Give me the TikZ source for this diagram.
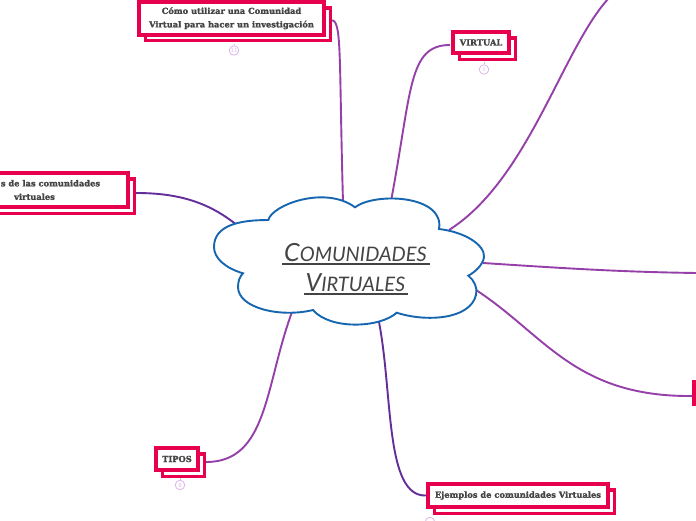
\documentclass[tikz,border=0pt]{standalone}
\usepackage{fontspec}
\setmainfont[BoldFont={DejaVu Serif Bold},BoldFeatures={FakeBold=1.6}]{DejaVu Serif}
\newfontfamily\titlefont{Lato Italic}
\usetikzlibrary{calc}
\definecolor{pinkb}{HTML}{E6004D}
\definecolor{cloudb}{HTML}{1565B0}
\definecolor{lightp}{HTML}{9440A8}
\definecolor{darkp}{HTML}{642E9A}
\definecolor{ink}{HTML}{444444}
\definecolor{tagc}{HTML}{DDB6EA}
\tikzset{
  x=1pt,y=-1pt,
  frontbox/.style={draw=pinkb,fill=white,line width=3.8pt,rectangle,inner sep=0pt,align=center,text=ink,font=\fontsize{8.3}{13.5}\selectfont\bfseries},
  backbox/.style={draw=pinkb,fill=white,line width=3.2pt,rectangle,inner sep=0pt},
  linkl/.style={draw=lightp,line width=1.9pt},
  linkd/.style={draw=darkp,line width=1.9pt},
  tagmark/.style={circle,draw=tagc,line width=.8pt,fill=white,minimum size=9.5pt,inner sep=0pt,text=tagc,font=\fontsize{5.5}{6}\selectfont},
  tagstem/.style={draw=tagc,line width=.8pt},
}
\newcommand{\ulrule}[1]{\vtop{\hbox{\hspace{2pt}#1\hspace{3pt}}\kern1.6pt\hrule height 1.5pt}}
% name, front l t r b, text
\newcommand{\pairbox}[6]{%
  \pgfmathsetmacro{\fl}{#2+1.9}\pgfmathsetmacro{\ft}{#3+1.9}%
  \pgfmathsetmacro{\fr}{#4-1.9}\pgfmathsetmacro{\fb}{#5-1.9}%
  \pgfmathsetmacro{\bl}{\fl+6.5}\pgfmathsetmacro{\bt}{\ft+6}%
  \pgfmathsetmacro{\br}{\fr+6.5}\pgfmathsetmacro{\bb}{\fb+6}%
  \pgfmathsetmacro{\wf}{\fr-\fl}\pgfmathsetmacro{\hf}{\fb-\ft}%
  \node[backbox,minimum width=\wf pt,minimum height=\hf pt] (#1b) at ({(\bl+\br)/2},{(\bt+\bb)/2}) {};
  \node[frontbox,minimum width=\wf pt,minimum height=\hf pt] (#1) at ({(\fl+\fr)/2},{(\ft+\fb)/2}) {#6};
}
\begin{document}
\begin{tikzpicture}
\clip (0,0) rectangle (696,520);
\fill[white] (0,0) rectangle (696,520);

\pairbox{como}{137}{0}{326}{36.5}{Cómo utilizar una Comunidad\\Virtual para hacer un investigación}
\pairbox{virtual}{451}{30}{511}{55}{VIRTUAL}
\pairbox{carac}{-61}{171}{130}{209}{\hspace*{32pt}s de las comunidades\\virtuales}
\pairbox{tipos}{154}{446}{200}{472}{TIPOS}
\pairbox{ejem}{426}{482}{610}{509}{Ejemplos de comunidades Virtuales}
\pairbox{edge}{692}{380}{760}{406}{}

\coordinate (offtop) at (608,-1);
\coordinate (offright) at (697,273);
\coordinate (cA) at (343,202);
\coordinate (cB) at (391,201);
\coordinate (cC) at (449,230);
\coordinate (cD) at (483,263);
\coordinate (cE) at (476,290);
\coordinate (cF) at (379,322);
\coordinate (cG) at (292,312);
\coordinate (cH) at (238,226);

\draw[linkl] ([yshift=4pt]comob.east) .. controls (342,22) and (339,60) .. (cA);
\draw[linkl] ([xshift=-1pt,yshift=-2.5pt]virtual.west) .. controls (408,45) and (412,90) .. (cB);
\draw[linkl] (cC) .. controls (528,180) and (562,50) .. (offtop);
\draw[linkl] (cD) .. controls (560,268) and (620,272) .. (offright);
\draw[linkl] (cE) .. controls (545,335) and (575,397) .. ([yshift=-3pt]edge.west);
\draw[linkd] (cF) .. controls (393,395) and (385,497) .. (ejem.west);
\draw[linkl] (cG) .. controls (265,385) and (268,462) .. ([yshift=3pt]tiposb.east);
\draw[linkd] ([yshift=3pt]caracb.east) .. controls (180,193) and (210,203) .. (cH);

\draw[draw=cloudb,fill=white,line width=1.9pt]
  (268.3,220) .. controls (272,205) and (325,185) .. (355,207.3)
  .. controls (375,192) and (445,195) .. (439,229)
  .. controls (465,232) and (485,245) .. (484,257)
  .. controls (483,265) and (475,272) .. (468.3,275.7)
  .. controls (474,280) and (478,288) .. (476,295)
  .. controls (470,320) and (425,322) .. (396.7,312.7)
  .. controls (380,328) and (330,330) .. (313,310)
  .. controls (280,318) and (238,308) .. (238,287)
  .. controls (238,281) and (240,276) .. (243,273.3)
  .. controls (225,268) and (214,258) .. (214,247)
  .. controls (214,225) and (240,220) .. (268.3,220) -- cycle;

\node[text=ink,align=center,font=\titlefont\fontsize{25}{30}\selectfont] (title) at (356,269)
  {\ulrule{C{\fontsize{20}{30}\selectfont OMUNIDADES}}\\\ulrule{V{\fontsize{20}{30}\selectfont IRTUALES}}};

\node[tagmark] (t11) at (234,50.5) {11};
\draw[tagstem] (t11) -- (234,44);
\node[tagmark] (t1) at (484,69.5) {1};
\draw[tagstem] (t1) -- (484,62);
\node[tagmark] (t8) at (180,485) {8};
\draw[tagstem] (t8) -- (180,478);
\node[tagmark] (t10) at (430,522) {};
\end{tikzpicture}
\end{document}
